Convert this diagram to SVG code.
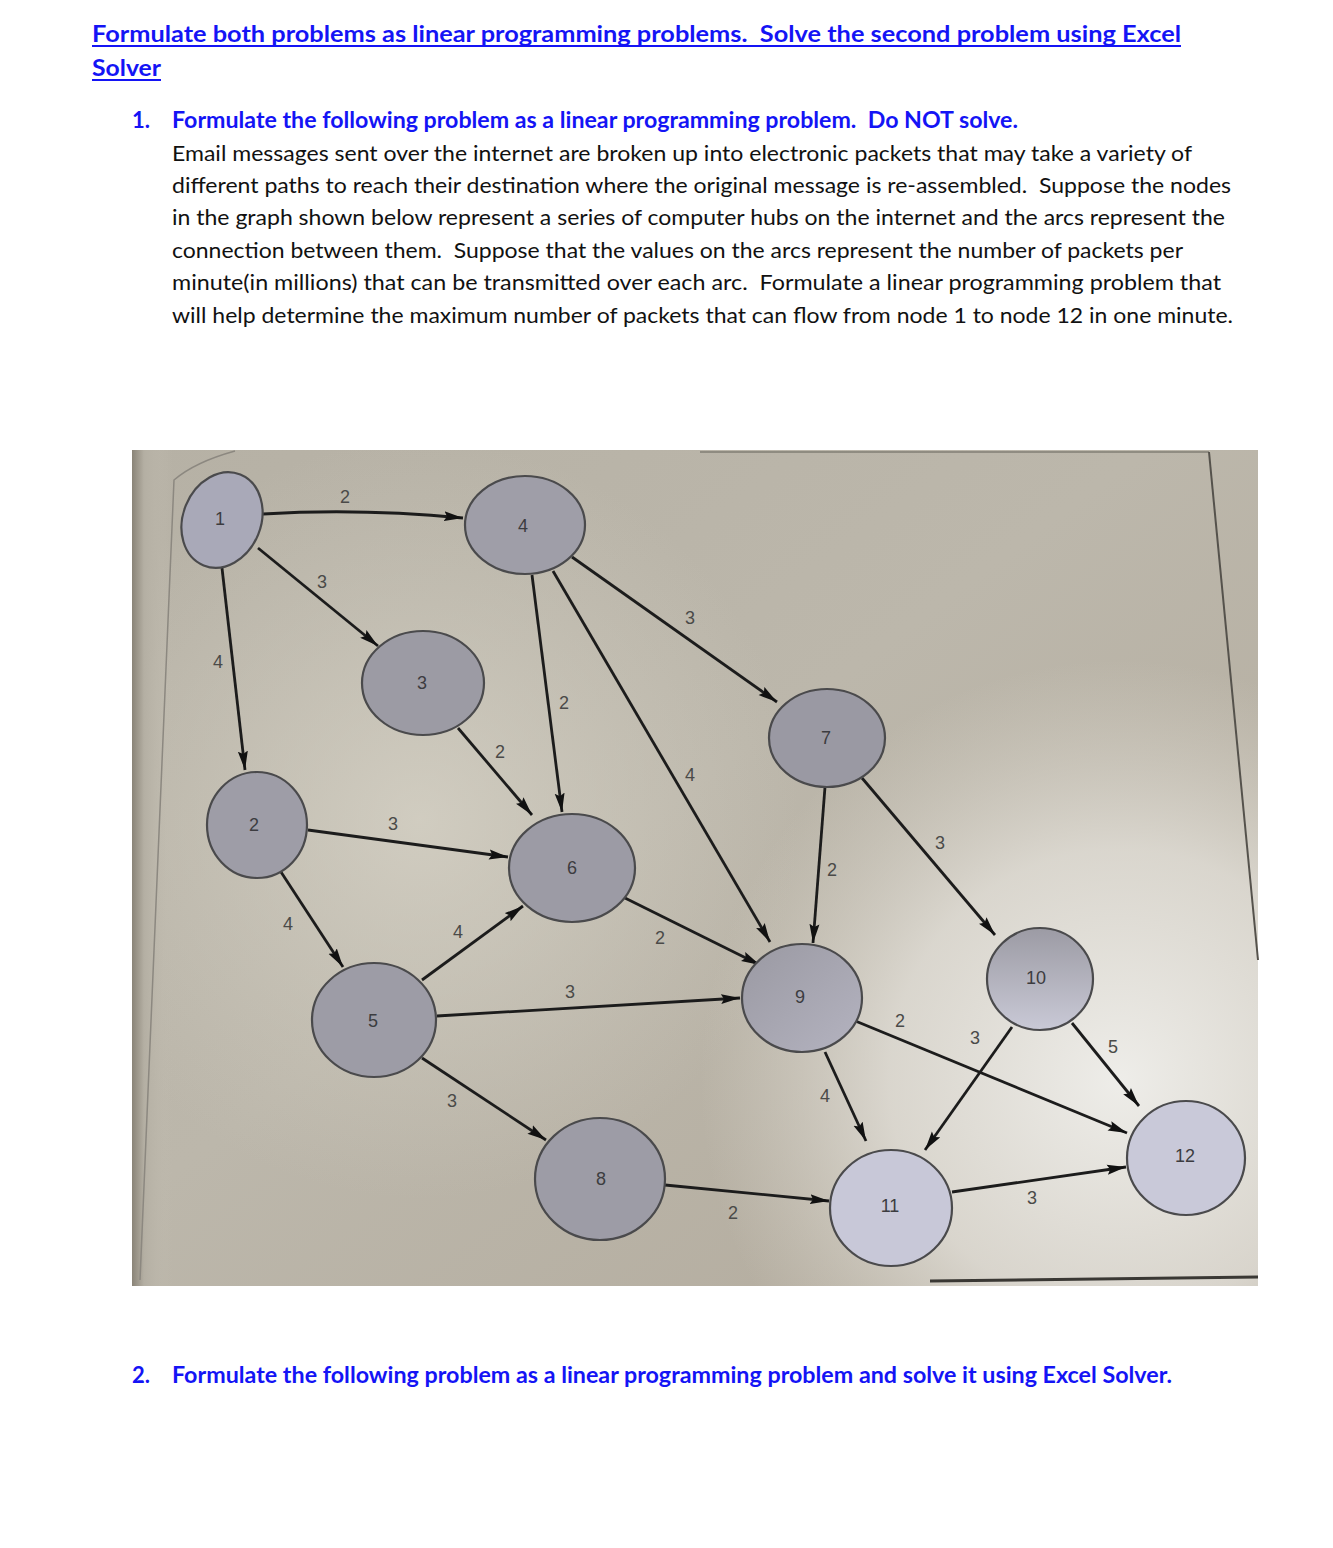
<svg xmlns="http://www.w3.org/2000/svg" width="1333" height="1548" viewBox="0 0 1333 1548">
<defs>
<style>
text{white-space:pre}
.hd{font-family:Lato,"Open Sans","Liberation Sans",sans-serif;font-weight:bold;fill:#1414f5;font-size:23px}
.h1{font-family:Lato,"Open Sans","Liberation Sans",sans-serif;font-weight:bold;fill:#1414f5;font-size:22px}
.bd{font-family:Lato,"Open Sans","Liberation Sans",sans-serif;fill:#111;font-size:22px}
.nl{font-family:"Liberation Sans",Arial,sans-serif;fill:#3c3c40;font-size:18px;text-anchor:middle;dominant-baseline:central}
.el{font-family:"Liberation Sans",Arial,sans-serif;fill:#4a4a48;font-size:18px;text-anchor:middle;dominant-baseline:central}
.nd{stroke:#4a4a4c;stroke-width:2.2}
.ed{fill:none;stroke:#1c1c1c;stroke-width:2.8;marker-end:url(#ah)}
.ul{stroke:#1414f5;stroke-width:2}
</style>
<marker id="ah" markerUnits="userSpaceOnUse" markerWidth="20" markerHeight="11" refX="19" refY="5.5" orient="auto">
<path d="M0,0.5 L19,5.5 L0,10.5 L3,5.5 z" fill="#111"/>
</marker>
<linearGradient id="bg" x1="0" y1="0" x2="1" y2="1">
<stop offset="0" stop-color="#b6b1a5"/>
<stop offset="0.45" stop-color="#bcb7ab"/>
<stop offset="1" stop-color="#b2aa9c"/>
</linearGradient>
<radialGradient id="hl" cx="1120" cy="1080" r="420" gradientUnits="userSpaceOnUse">
<stop offset="0" stop-color="#eeede9" stop-opacity="1"/>
<stop offset="0.55" stop-color="#e2dfd8" stop-opacity="0.8"/>
<stop offset="1" stop-color="#d8d4ca" stop-opacity="0"/>
</radialGradient>
<radialGradient id="hl2" cx="420" cy="820" r="380" gradientUnits="userSpaceOnUse">
<stop offset="0" stop-color="#d6d2c6" stop-opacity="0.8"/>
<stop offset="1" stop-color="#d0ccc0" stop-opacity="0"/>
</radialGradient>
<linearGradient id="lstrip" x1="0" y1="0" x2="1" y2="0">
<stop offset="0" stop-color="#8a8478"/>
<stop offset="0.3" stop-color="#b4afa3"/>
<stop offset="1" stop-color="#c2bdb1" stop-opacity="0"/>
</linearGradient>
<linearGradient id="g10" x1="0" y1="0" x2="0" y2="1">
<stop offset="0" stop-color="#9c9ba4"/>
<stop offset="1" stop-color="#c9c9d6"/>
</linearGradient>
<linearGradient id="g9" x1="0" y1="0" x2="1" y2="1">
<stop offset="0" stop-color="#9a99a2"/>
<stop offset="1" stop-color="#b4b3c0"/>
</linearGradient>
</defs>
<rect width="1333" height="1548" fill="#fff"/>

<g id="text">
<text class="hd" x="92" y="42" textLength="1089" lengthAdjust="spacingAndGlyphs">Formulate both problems as linear programming problems.  Solve the second problem using Excel</text>
<line class="ul" x1="92" y1="46" x2="1181" y2="46"/>
<text class="hd" x="92" y="76" textLength="69" lengthAdjust="spacingAndGlyphs">Solver</text>
<line class="ul" x1="92" y1="80" x2="161" y2="80"/>
<text class="h1" x="132" y="128">1.</text>
<text class="h1" x="172" y="128" textLength="846" lengthAdjust="spacingAndGlyphs">Formulate the following problem as a linear programming problem.  Do NOT solve.</text>
<text class="bd" x="172" y="161" textLength="1020" lengthAdjust="spacingAndGlyphs">Email messages sent over the internet are broken up into electronic packets that may take a variety of</text>
<text class="bd" x="172" y="193" textLength="1059" lengthAdjust="spacingAndGlyphs">different paths to reach their destination where the original message is re-assembled.  Suppose the nodes</text>
<text class="bd" x="172" y="225" textLength="1053" lengthAdjust="spacingAndGlyphs">in the graph shown below represent a series of computer hubs on the internet and the arcs represent the</text>
<text class="bd" x="172" y="258" textLength="1011" lengthAdjust="spacingAndGlyphs">connection between them.  Suppose that the values on the arcs represent the number of packets per</text>
<text class="bd" x="172" y="290" textLength="1049" lengthAdjust="spacingAndGlyphs">minute(in millions) that can be transmitted over each arc.  Formulate a linear programming problem that</text>
<text class="bd" x="172" y="323" textLength="1061" lengthAdjust="spacingAndGlyphs">will help determine the maximum number of packets that can flow from node 1 to node 12 in one minute.</text>
<text class="h1" x="132" y="1383">2.</text>
<text class="h1" x="172" y="1383" textLength="1000" lengthAdjust="spacingAndGlyphs">Formulate the following problem as a linear programming problem and solve it using Excel Solver.</text>
</g>

<g id="photo">
<rect x="132" y="450" width="1126" height="836" fill="url(#bg)"/>
<rect x="132" y="450" width="1126" height="836" fill="url(#hl2)"/>
<rect x="132" y="450" width="1126" height="836" fill="url(#hl)"/>
<rect x="132" y="450" width="40" height="836" fill="url(#lstrip)"/>
<path d="M235,451 Q195,462 174,480 L140,1280" fill="none" stroke="#8c8880" stroke-width="1.5"/>
<path d="M700,452 L1209,452" fill="none" stroke="#6a665e" stroke-width="1.5" stroke-opacity="0.7"/>
<path d="M1209,452 L1258,960" fill="none" stroke="#55524c" stroke-width="2"/>
<path d="M930,1281 L1258,1277" fill="none" stroke="#3a3834" stroke-width="3"/>
</g>

<g id="connectors">
<path class="ed" d="M263,514 Q360,508 463,518"/>
<text class="el" x="345" y="497">2</text>
<path class="ed" d="M258,548 L378,646"/>
<text class="el" x="322" y="582">3</text>
<path class="ed" d="M222,568 L245,770"/>
<text class="el" x="218" y="662" font-size="14">4</text>
<path class="ed" d="M532,575 L562,812"/>
<text class="el" x="564" y="703">2</text>
<path class="ed" d="M553,571 L770,942"/>
<text class="el" x="690" y="775">4</text>
<path class="ed" d="M572,557 L777,702"/>
<text class="el" x="690" y="618">3</text>
<path class="ed" d="M458,728 L532,815"/>
<text class="el" x="500" y="752">2</text>
<path class="ed" d="M308,830 L508,857"/>
<text class="el" x="393" y="824">3</text>
<path class="ed" d="M281,872 L343,967"/>
<text class="el" x="288" y="924" font-size="15">4</text>
<path class="ed" d="M422,980 L523,906"/>
<text class="el" x="458" y="932">4</text>
<path class="ed" d="M437,1016 L740,998"/>
<text class="el" x="570" y="992">3</text>
<path class="ed" d="M422,1058 L546,1140"/>
<text class="el" x="452" y="1101">3</text>
<path class="ed" d="M625,898 L760,965"/>
<text class="el" x="660" y="938">2</text>
<path class="ed" d="M825,787 L813,943"/>
<text class="el" x="832" y="870">2</text>
<path class="ed" d="M862,778 L995,935"/>
<text class="el" x="940" y="843">3</text>
<path class="ed" d="M825,1052 L866,1141"/>
<text class="el" x="825" y="1096" font-size="16">4</text>
<path class="ed" d="M853,1020 L1127,1133"/>
<text class="el" x="900" y="1021">2</text>
<path class="ed" d="M1012,1027 L925,1150"/>
<text class="el" x="975" y="1038">3</text>
<path class="ed" d="M1072,1023 L1139,1106"/>
<text class="el" x="1113" y="1047">5</text>
<path class="ed" d="M665,1185 L829,1201"/>
<text class="el" x="733" y="1213">2</text>
<path class="ed" d="M952,1192 L1126,1167"/>
<text class="el" x="1032" y="1198">3</text>
</g>

<g id="node1"><ellipse class="nd" cx="222" cy="520" rx="39" ry="49" transform="rotate(22 222 520)" fill="#a9a9b8"/><text class="nl" x="220" y="519" font-size="14">1</text></g>
<g id="node4"><ellipse class="nd" cx="525" cy="525" rx="60" ry="49" fill="#9f9ea8"/><text class="nl" x="523" y="526">4</text></g>
<g id="node3"><ellipse class="nd" cx="423" cy="683" rx="61" ry="52" fill="#9c9ba4"/><text class="nl" x="422" y="683">3</text></g>
<g id="node2"><ellipse class="nd" cx="257" cy="825" rx="50" ry="53" fill="#9e9da7"/><text class="nl" x="254" y="825">2</text></g>
<g id="node6"><ellipse class="nd" cx="572" cy="868" rx="63" ry="54" fill="#9c9ba5"/><text class="nl" x="572" y="868">6</text></g>
<g id="node7"><ellipse class="nd" cx="827" cy="738" rx="58" ry="49" fill="#9a99a3"/><text class="nl" x="826" y="738" font-size="16">7</text></g>
<g id="node5"><ellipse class="nd" cx="374" cy="1020" rx="62" ry="57" fill="#9d9ca6"/><text class="nl" x="373" y="1021">5</text></g>
<g id="node9"><ellipse class="nd" cx="802" cy="998" rx="60" ry="54" fill="url(#g9)"/><text class="nl" x="800" y="997" font-size="16">9</text></g>
<g id="node10"><ellipse class="nd" cx="1040" cy="979" rx="53" ry="51" fill="url(#g10)"/><text class="nl" x="1036" y="978">10</text></g>
<g id="node8"><ellipse class="nd" cx="600" cy="1179" rx="65" ry="61" fill="#9d9ca6"/><text class="nl" x="601" y="1179">8</text></g>
<g id="node11"><ellipse class="nd" cx="891" cy="1208" rx="61" ry="58" fill="#c8c8d8"/><text class="nl" x="890" y="1206">11</text></g>
<g id="node12"><ellipse class="nd" cx="1186" cy="1158" rx="59" ry="57" fill="#c9c9d9"/><text class="nl" x="1185" y="1156">12</text></g>
</svg>
